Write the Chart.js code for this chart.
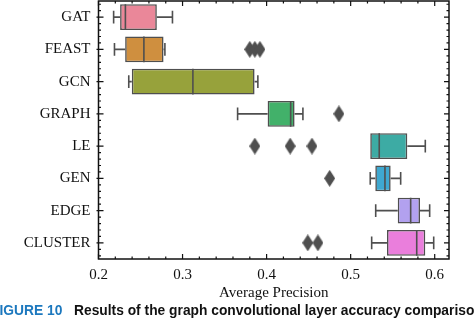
<!DOCTYPE html>
<html>
<head>
<meta charset="utf-8">
<script src="https://cdn.jsdelivr.net/npm/chart.js@4/dist/chart.umd.min.js"></script>
<style>
  html, body { margin: 0; padding: 0; background: #fff; }
  #wrap { position: relative; width: 474px; height: 325px; overflow: hidden; }
  #c { position: absolute; left: 0; top: -6px; }
  .cap { position: absolute; top: 301px; font: bold 15px "Liberation Sans", sans-serif; white-space: nowrap; transform-origin: 0 0; transform: scaleX(0.92); }
</style>
</head>
<body>
<div id="wrap">
  <canvas id="c" width="474" height="308"></canvas>
  <div class="cap" style="left:-9px;color:#1c78be">FIGURE 10</div>
  <div class="cap" style="left:74px;color:#111">Results of the graph convolutional layer accuracy comparison</div>
</div>
<script>
// box plot stats per category (Average Precision)
const categories = ['GAT', 'FEAST', 'GCN', 'GRAPH', 'LE', 'GEN', 'EDGE', 'CLUSTER'];
const whiskerLow = [0.218, 0.219, 0.236, 0.3655, 0.5233, 0.5233, 0.5298, 0.525];
const q1 = [0.2257, 0.2317, 0.2396, 0.4012, 0.5233, 0.5293, 0.556, 0.5432];
const median = [0.232, 0.254, 0.3123, 0.4286, 0.534, 0.5408, 0.5714, 0.5786];
const q3 = [0.2694, 0.2774, 0.3857, 0.4333, 0.5674, 0.5476, 0.5825, 0.5888];
const whiskerHigh = [0.288, 0.279, 0.3896, 0.4432, 0.5888, 0.5595, 0.594, 0.5988];
const outliers = [[], [0.380, 0.386, 0.392], [], [0.486], [0.386, 0.428, 0.454], [0.475], [], [0.449, 0.461]];
const xTickLabels = [0.2, 0.3, 0.4, 0.5, 0.6];

const boxColors = ['#ea8799', '#cf8f3f', '#97a23b', '#42b16a', '#3daba4', '#3fa8d0', '#b2a1ef', '#ea7edc'];
const EDGE = '#4f4f4f';
const FONT = '"Liberation Serif", "DejaVu Serif", serif';

// diamond marker for outliers
const diamond = document.createElement('canvas');
diamond.width = 11; diamond.height = 17;
{
  const d = diamond.getContext('2d');
  d.fillStyle = EDGE;
  d.beginPath();
  d.moveTo(5.5, 0); d.lineTo(11, 8.5); d.lineTo(5.5, 17); d.lineTo(0, 8.5);
  d.closePath(); d.fill();
}

const outlierPoints = [];
outliers.forEach((arr, i) => arr.forEach(v => outlierPoints.push({x: v, y: categories[i]})));

// whiskers, caps and medians
const boxExtras = {
  id: 'boxExtras',
  afterDatasetsDraw(chart) {
    const {ctx, scales: {x, y}} = chart;
    const bars = chart.getDatasetMeta(0).data;
    ctx.save();
    ctx.strokeStyle = EDGE;
    ctx.lineWidth = 1.6;
    categories.forEach((c, i) => {
      const cy = y.getPixelForValue(i);
      const h = bars[i].height;
      const cap = h / 4;
      const lo = x.getPixelForValue(whiskerLow[i]);
      const hi = x.getPixelForValue(whiskerHigh[i]);
      const b1 = x.getPixelForValue(q1[i]);
      const b3 = x.getPixelForValue(q3[i]);
      const m = x.getPixelForValue(median[i]);
      ctx.beginPath();
      if (lo < b1 - 0.5) {
        ctx.moveTo(lo, cy); ctx.lineTo(b1, cy);
        ctx.moveTo(lo, cy - cap); ctx.lineTo(lo, cy + cap);
      }
      if (hi > b3 + 0.5) {
        ctx.moveTo(b3, cy); ctx.lineTo(hi, cy);
        ctx.moveTo(hi, cy - cap); ctx.lineTo(hi, cy + cap);
      }
      ctx.moveTo(m, cy - h / 2); ctx.lineTo(m, cy + h / 2);
      ctx.stroke();
    });
    ctx.restore();
  }
};

// frame with inward major/minor ticks on all four sides
const frameTicks = {
  id: 'frameTicks',
  afterDraw(chart) {
    const {ctx, chartArea: {left, right, top, bottom}, scales: {x, y}} = chart;
    ctx.save();
    ctx.strokeStyle = '#111';
    ctx.lineWidth = 1.5;
    ctx.strokeRect(left, top, right - left, bottom - top);
    ctx.lineWidth = 1.2;
    ctx.beginPath();
    for (let k = 20; k <= 60; k += 2) {
      const px = x.getPixelForValue(k / 100);
      const len = k % 10 === 0 ? 5 : 2.5;
      ctx.moveTo(px, bottom); ctx.lineTo(px, bottom - len);
      ctx.moveTo(px, top); ctx.lineTo(px, top + len);
    }
    for (let i = 0; i < categories.length; i++) {
      for (let k = -2; k <= 2; k++) {
        const py = y.getPixelForValue(i + k * 0.2);
        const len = k === 0 ? 5 : 2.5;
        ctx.moveTo(left - (k === 0 ? 2 : 0), py); ctx.lineTo(left + len, py);
        ctx.moveTo(right, py); ctx.lineTo(right - len, py);
      }
    }
    ctx.stroke();
    ctx.restore();
  }
};

new Chart(document.getElementById('c'), {
  type: 'bar',
  plugins: [boxExtras, frameTicks],
  data: {
    labels: categories,
    datasets: [
      {
        type: 'bar',
        indexAxis: 'y',
        data: categories.map((c, i) => [q1[i], q3[i]]),
        backgroundColor: boxColors,
        borderColor: EDGE,
        borderWidth: 1.6,
        borderSkipped: false,
        barPercentage: 0.8,
        categoryPercentage: 1.0
      },
      {
        type: 'scatter',
        indexAxis: 'y',
        data: outlierPoints,
        pointStyle: diamond,
        pointRadius: 6
      }
    ]
  },
  options: {
    indexAxis: 'y',
    responsive: false,
    animation: false,
    layout: { padding: { left: 0.5, right: 25, top: 0, bottom: 0 } },
    plugins: { legend: { display: false }, tooltip: { enabled: false } },
    scales: {
      y: {
        type: 'category',
        labels: categories,
        offset: true,
        grid: { display: false, drawTicks: false },
        border: { display: false },
        ticks: { color: '#111', font: { family: FONT, size: 15 }, padding: 8 },
        afterFit: s => { s.width = 98; s.paddingTop = 0; s.paddingBottom = 0; }
      },
      x: {
        type: 'linear',
        min: 0.2,
        max: 0.617,
        grid: { display: false, drawTicks: false },
        border: { display: false },
        ticks: {
          stepSize: 0.1,
          includeBounds: false,
          color: '#111',
          font: { family: FONT, size: 15 },
          padding: 7,
          callback: v => xTickLabels.some(t => Math.abs(t - v) < 1e-6) ? v.toFixed(1) : ''
        },
        title: {
          display: true,
          text: 'Average Precision',
          color: '#111',
          font: { family: FONT, size: 15 },
          padding: { top: 0, bottom: 0 }
        },
        afterFit: s => { s.height = 43; s.paddingLeft = 0; s.paddingRight = 0; }
      }
    }
  }
});
</script>
</body>
</html>
